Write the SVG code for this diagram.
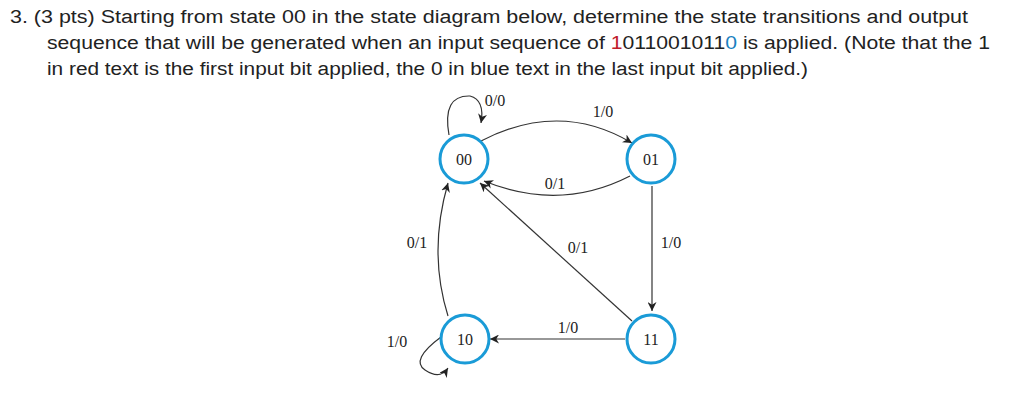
<svg xmlns="http://www.w3.org/2000/svg" width="1024" height="408" viewBox="0 0 1024 408">
<style>
.q{font-family:"Liberation Sans Narrow","Liberation Sans",sans-serif;font-size:18px;fill:#222}
.n circle{fill:#fff;stroke:#1a9bd7;stroke-width:3}
.n text,.l{font-family:"Liberation Serif",serif;font-size:16px;fill:#222;text-anchor:middle}
.e path{fill:none;stroke:#333;stroke-width:1.2;marker-end:url(#a)}
</style>
<defs><marker id="a" viewBox="0 0 10 10" refX="10" refY="5" markerWidth="9" markerHeight="9" markerUnits="userSpaceOnUse" orient="auto"><path d="M0,0 L10,5 L0,10 L3,5Z" fill="#222"/></marker></defs>
<rect width="1024" height="408" fill="#fff"/>
<text class="q" x="10" y="23" textLength="958" lengthAdjust="spacingAndGlyphs">3.  (3 pts) Starting from state 00 in the state diagram below, determine the state transitions and output</text>
<text class="q" x="47" y="49" textLength="943" lengthAdjust="spacingAndGlyphs">sequence that will be generated when an input sequence of <tspan fill="#c0202a">1</tspan>011001011<tspan fill="#1a7fc0">0</tspan> is applied. (Note that the 1</text>
<text class="q" x="47" y="75" textLength="761" lengthAdjust="spacingAndGlyphs">in red text is the first input bit applied, the 0 in blue text in the last input bit applied.)</text>
<g class="e" id="edges">
<path d="M481,141 Q560,100 632,143"/>
<path d="M630,176 Q560,212 484,181"/>
<path d="M652,186 L652,311"/>
<path d="M632,321 L480,183"/>
<path d="M625,339 L490,339"/>
<path d="M448,316 Q428,252 448,183"/>
<path d="M449,135 Q442,95 470,96 Q485,100 481,123"/>
<path d="M441,337 Q410,360 425,370 Q440,380 448,368"/>
</g>
<text class="l" x="495" y="106">0/0</text>
<text class="l" x="603" y="117">1/0</text>
<text class="l" x="555" y="189">0/1</text>
<text class="l" x="417" y="248">0/1</text>
<text class="l" x="578" y="253">0/1</text>
<text class="l" x="671" y="248">1/0</text>
<text class="l" x="568" y="333">1/0</text>
<text class="l" x="397" y="347">1/0</text>
<g class="n" id="s00"><circle cx="464" cy="159" r="24"/><text x="464" y="165">00</text></g>
<g class="n" id="s01"><circle cx="651" cy="159" r="24"/><text x="651" y="165">01</text></g>
<g class="n" id="s10"><circle cx="465" cy="339" r="24"/><text x="465" y="345">10</text></g>
<g class="n" id="s11"><circle cx="651" cy="339" r="24"/><text x="651" y="345">11</text></g>
</svg>
